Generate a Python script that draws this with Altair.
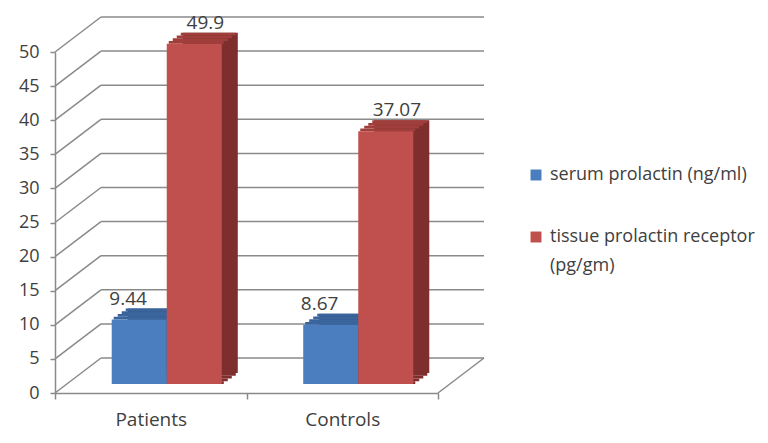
import altair as alt
import pandas as pd

# data
groups = ["Patients", "Controls"]
series = ["serum prolactin (ng/ml)", "tissue prolactin receptor (pg/gm)"]
serum_values = [9.44, 8.67]
tissue_values = [49.9, 37.07]
y_ticks = [0, 5, 10, 15, 20, 25, 30, 35, 40, 45, 50]

front_colors = ["#4a7ebf", "#c0504d"]
top_colors = ["#3a659c", "#a03e3b"]
side_colors = ["#2e5080", "#7e2e2c"]

W, H = 383, 341
DX, DY = 46, -35          # depth of the back wall
BX, BY = 16, -9           # bars stand in the middle of the floor
SX, SY = 16, -11          # depth of a bar
STEPS = 4                 # strips used to fake the slanted faces
GRID = "#8a8a8a"
FONT = "Open Sans"
TXT = "#404040"

rows = []
for i, g in enumerate(groups):
    rows.append({"group": g, "series": series[0], "value": serum_values[i], "base": 0})
    rows.append({"group": g, "series": series[1], "value": tissue_values[i], "base": 0})
bars = pd.DataFrame(rows)
grid = pd.DataFrame({"v": y_ticks})

x_enc = alt.X("group:N", sort=groups, scale=alt.Scale(paddingInner=0, paddingOuter=0),
              axis=alt.Axis(title=None, labelAngle=0, tickBand="extent", tickSize=6,
                            domainColor=GRID, tickColor=GRID, domainWidth=1.5, tickWidth=1.5,
                            labelFont=FONT, labelFontSize=19, labelColor=TXT,
                            labelPadding=11))
y_scale = alt.Scale(domain=[0, 50], nice=False)
y_axis = alt.Axis(title=None, values=y_ticks, grid=False, tickSize=5, labelOverlap=False,
                  domainColor=GRID, tickColor=GRID, domainWidth=1.5, tickWidth=1.5,
                  labelFont=FONT, labelFontSize=18, labelColor=TXT,
                  labelPadding=11, minExtent=42)
y_enc = alt.Y("v:Q", scale=y_scale, axis=y_axis)
band = W / 2


def yf(field):
    return alt.Y(f"{field}:Q", scale=y_scale, axis=y_axis)


def xoff(shift):
    return alt.XOffset("series:N", sort=series,
                       scale=alt.Scale(domain=series, range=[shift, band + shift],
                                       paddingInner=0, paddingOuter=0.74))


def shade(colors):
    return alt.condition(alt.datum.series == series[0], alt.value(colors[0]), alt.value(colors[1]))


def strips(field, colors):
    # thin bands, each a little further back, so the face looks slanted
    out = []
    for j in range(STEPS):
        out.append(alt.Chart(bars).mark_bar(
            yOffset=BY + SY * (j + 1) / STEPS, y2Offset=BY + SY * j / STEPS
        ).encode(
            x=x_enc, xOffset=xoff(BX + SX * (j + 0.5) / STEPS),
            y=yf(field), y2=f"{field}:Q", fill=shade(colors),
        ))
    return out


# back wall and floor
back = alt.Chart(grid).mark_rule(color=GRID, strokeWidth=1.5, yOffset=DY).encode(
    x=alt.value(DX), x2=alt.value(W + DX), y=y_enc,
)
side_wall = alt.Chart(grid).mark_rule(color=GRID, strokeWidth=1.5, y2Offset=DY).encode(
    x=alt.value(0), x2=alt.value(DX), y=y_enc, y2="v:Q",
)
floor_edge = alt.Chart(grid).transform_filter(alt.datum.v == 0).mark_rule(
    color=GRID, strokeWidth=1.5, y2Offset=DY
).encode(x=alt.value(W), x2=alt.value(W + DX), y=y_enc, y2="v:Q")

bar_side = alt.Chart(bars).mark_bar(yOffset=BY + SY, y2Offset=BY + SY).encode(
    x=x_enc, xOffset=xoff(BX + SX), y=yf("value"), y2="base:Q",
    fill=shade(side_colors),
)
bar_front = alt.Chart(bars).mark_bar(yOffset=BY, y2Offset=BY).encode(
    x=x_enc, xOffset=xoff(BX), y=yf("value"), y2="base:Q",
    color=alt.Color("series:N", sort=series, scale=alt.Scale(domain=series, range=front_colors),
                    legend=alt.Legend(title=None, orient="none", legendX=472, legendY=114,
                                      symbolType="square", symbolSize=120, rowPadding=44,
                                      labelFont=FONT, labelFontSize=18, labelColor=TXT,
                                      labelOffset=5,
                                      labelExpr="datum.label == 'tissue prolactin receptor (pg/gm)' ? ['tissue prolactin receptor', '(pg/gm)'] : datum.label",
                                      labelLimit=300)),
)
labels = alt.Chart(bars).mark_text(yOffset=BY - 21, font=FONT, fontSize=19, color=TXT).encode(
    x=x_enc, xOffset=xoff(BX), y=yf("value"), text="value:Q",
)

layers = [back, side_wall, floor_edge, bar_side]
layers += strips("base", side_colors)
layers += strips("value", top_colors)
layers += [bar_front, labels]

chart = alt.layer(*layers).properties(
    width=W, height=H, padding={"left": 5, "top": 5, "right": 0, "bottom": 3}
).resolve_scale(
    xOffset="independent"
).configure(style={"guide-label": {"lineHeight": 29}}).configure_view(stroke=None)

chart.save("out.html", embed_options={"renderer": "svg", "actions": False})
